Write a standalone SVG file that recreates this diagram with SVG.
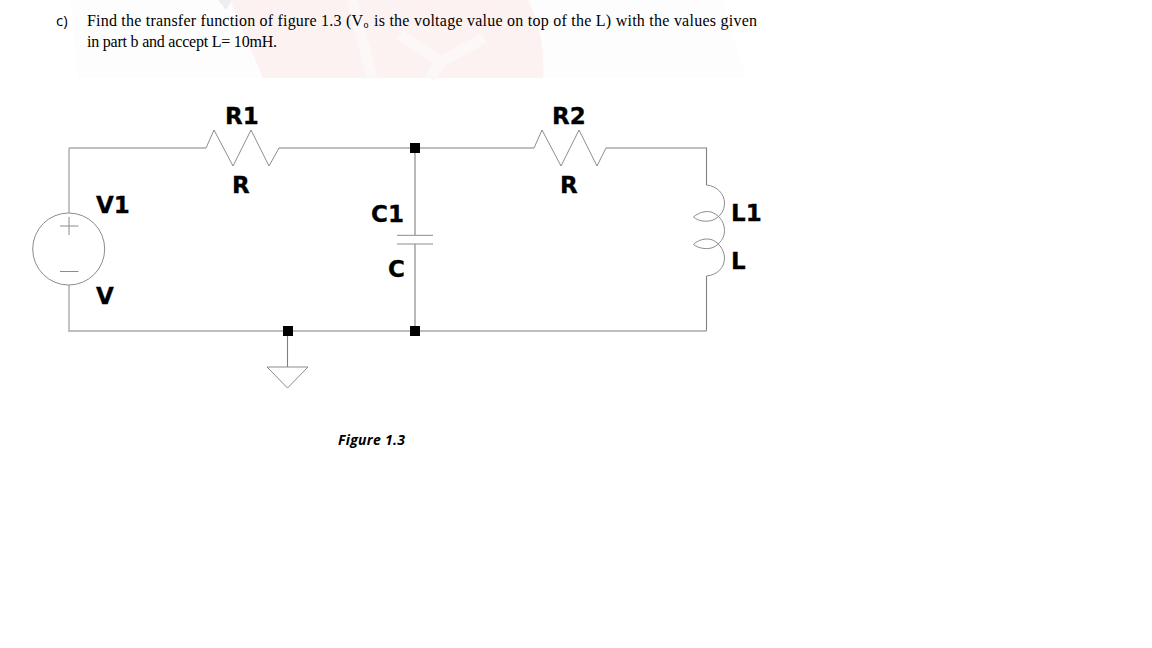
<svg xmlns="http://www.w3.org/2000/svg" width="1152" height="648" viewBox="0 0 1152 648">
<style>
.w{fill:none;stroke:#808080;stroke-width:1.1}
.g{fill:none;stroke:#bdbdbd;stroke-width:1.8}
.s{fill:none;stroke:#8c8c8c;stroke-width:1}
.d{fill:#000}
.l{font-family:"DejaVu Sans",sans-serif;font-weight:700;font-size:23px;fill:#000;stroke:#000;stroke-width:.3}
.t{font-family:"Liberation Serif",serif;font-size:16px;fill:#000}
.b{fill:none;stroke:#fdf8f8;stroke-width:11}
</style>
<rect width="1152" height="648" fill="#fff"/>
<g id="watermark">
<path d="M70 0H722L746 78H78Z" fill="#fdfdfd"/>
<path d="M218 0H232L226 10Z" fill="#eceef2"/>
<path d="M230 0H528C538 20 545 45 543 78H263Z" fill="#fdf2f2"/>
<path class="b" d="M352 0L372 78"/>
<path class="b" d="M400 35L440 62L484 38M440 62L430 78"/>
</g>
<g id="question">
<text class="t" x="56" y="26" style="font-family:'Open Sans',sans-serif;font-size:15px">c)</text>
<text class="t" x="87" y="26" textLength="276">Find the transfer function of figure 1.3 (V</text>
<text class="t" x="363.500" y="28" style="font-size:10px">o</text>
<text class="t" x="374" y="26" textLength="383">is the voltage value on top of the L) with the values given</text>
<text class="t" x="87" y="47" textLength="190">in part b and accept L= 10mH.</text>
</g>
<g id="connectors">
<path class="w" d="M69 148H206M279 148H534M606 148H706.500V185M706.500 276V331"/>
<path class="g" d="M69 148V213M69 285V331H706.500"/>
<path class="w" d="M415 148V235M415 244V331M287.500 331V367"/>
</g>
<g id="V1">
<circle class="s" cx="68.700" cy="249" r="36"/>
<path class="s" d="M60 226H78.500M69 217V235M60 271.500H78.500"/>
<text class="l" x="96" y="213">V1</text>
<text class="l" x="96" y="304">V</text>
</g>
<g id="R1">
<path class="s" d="M206 148L214 130L233 166L251 130L269 166L279 148"/>
<text class="l" x="225" y="124">R1</text>
<text class="l" x="232" y="193">R</text>
</g>
<g id="R2">
<path class="s" d="M534 148L542 130L561 166L579 130L597 166L606 148"/>
<text class="l" x="552" y="124">R2</text>
<text class="l" x="560" y="193">R</text>
</g>
<g id="C1">
<path class="s" d="M397 235.300H433M397 244H433"/>
<text class="l" x="371" y="222">C1</text>
<text class="l" x="388" y="277">C</text>
</g>
<g id="L1">
<path class="s" d="M706.500 185C717 186 724.500 194 724.500 203C724.500 211 720 217 713 220C706 222.500 698 221 693.500 217C698 213 705 210.500 711 212C717 214 724.500 220 724.500 230.500C724.500 238 720 244 713 247.500C706 250 698 248 693.500 244.500C698 240 705 238 711 239.500C717 241 724.500 249 724.500 258C724.500 268 717 275 706.500 276"/>
<text class="l" x="731" y="221">L1</text>
<text class="l" x="731" y="269">L</text>
</g>
<g id="ground">
<path class="s" d="M267 367H308L287.500 388Z"/>
</g>
<g id="junctions">
<rect class="d" x="410" y="143" width="10" height="10"/>
<rect class="d" x="283" y="326" width="10" height="10"/>
<rect class="d" x="410" y="326" width="10" height="10"/>
</g>
<g id="caption">
<text x="338" y="445" style="font-family:'Open Sans',sans-serif;font-weight:700;font-style:italic;font-size:14px" textLength="67">Figure 1.3</text>
</g>
</svg>
